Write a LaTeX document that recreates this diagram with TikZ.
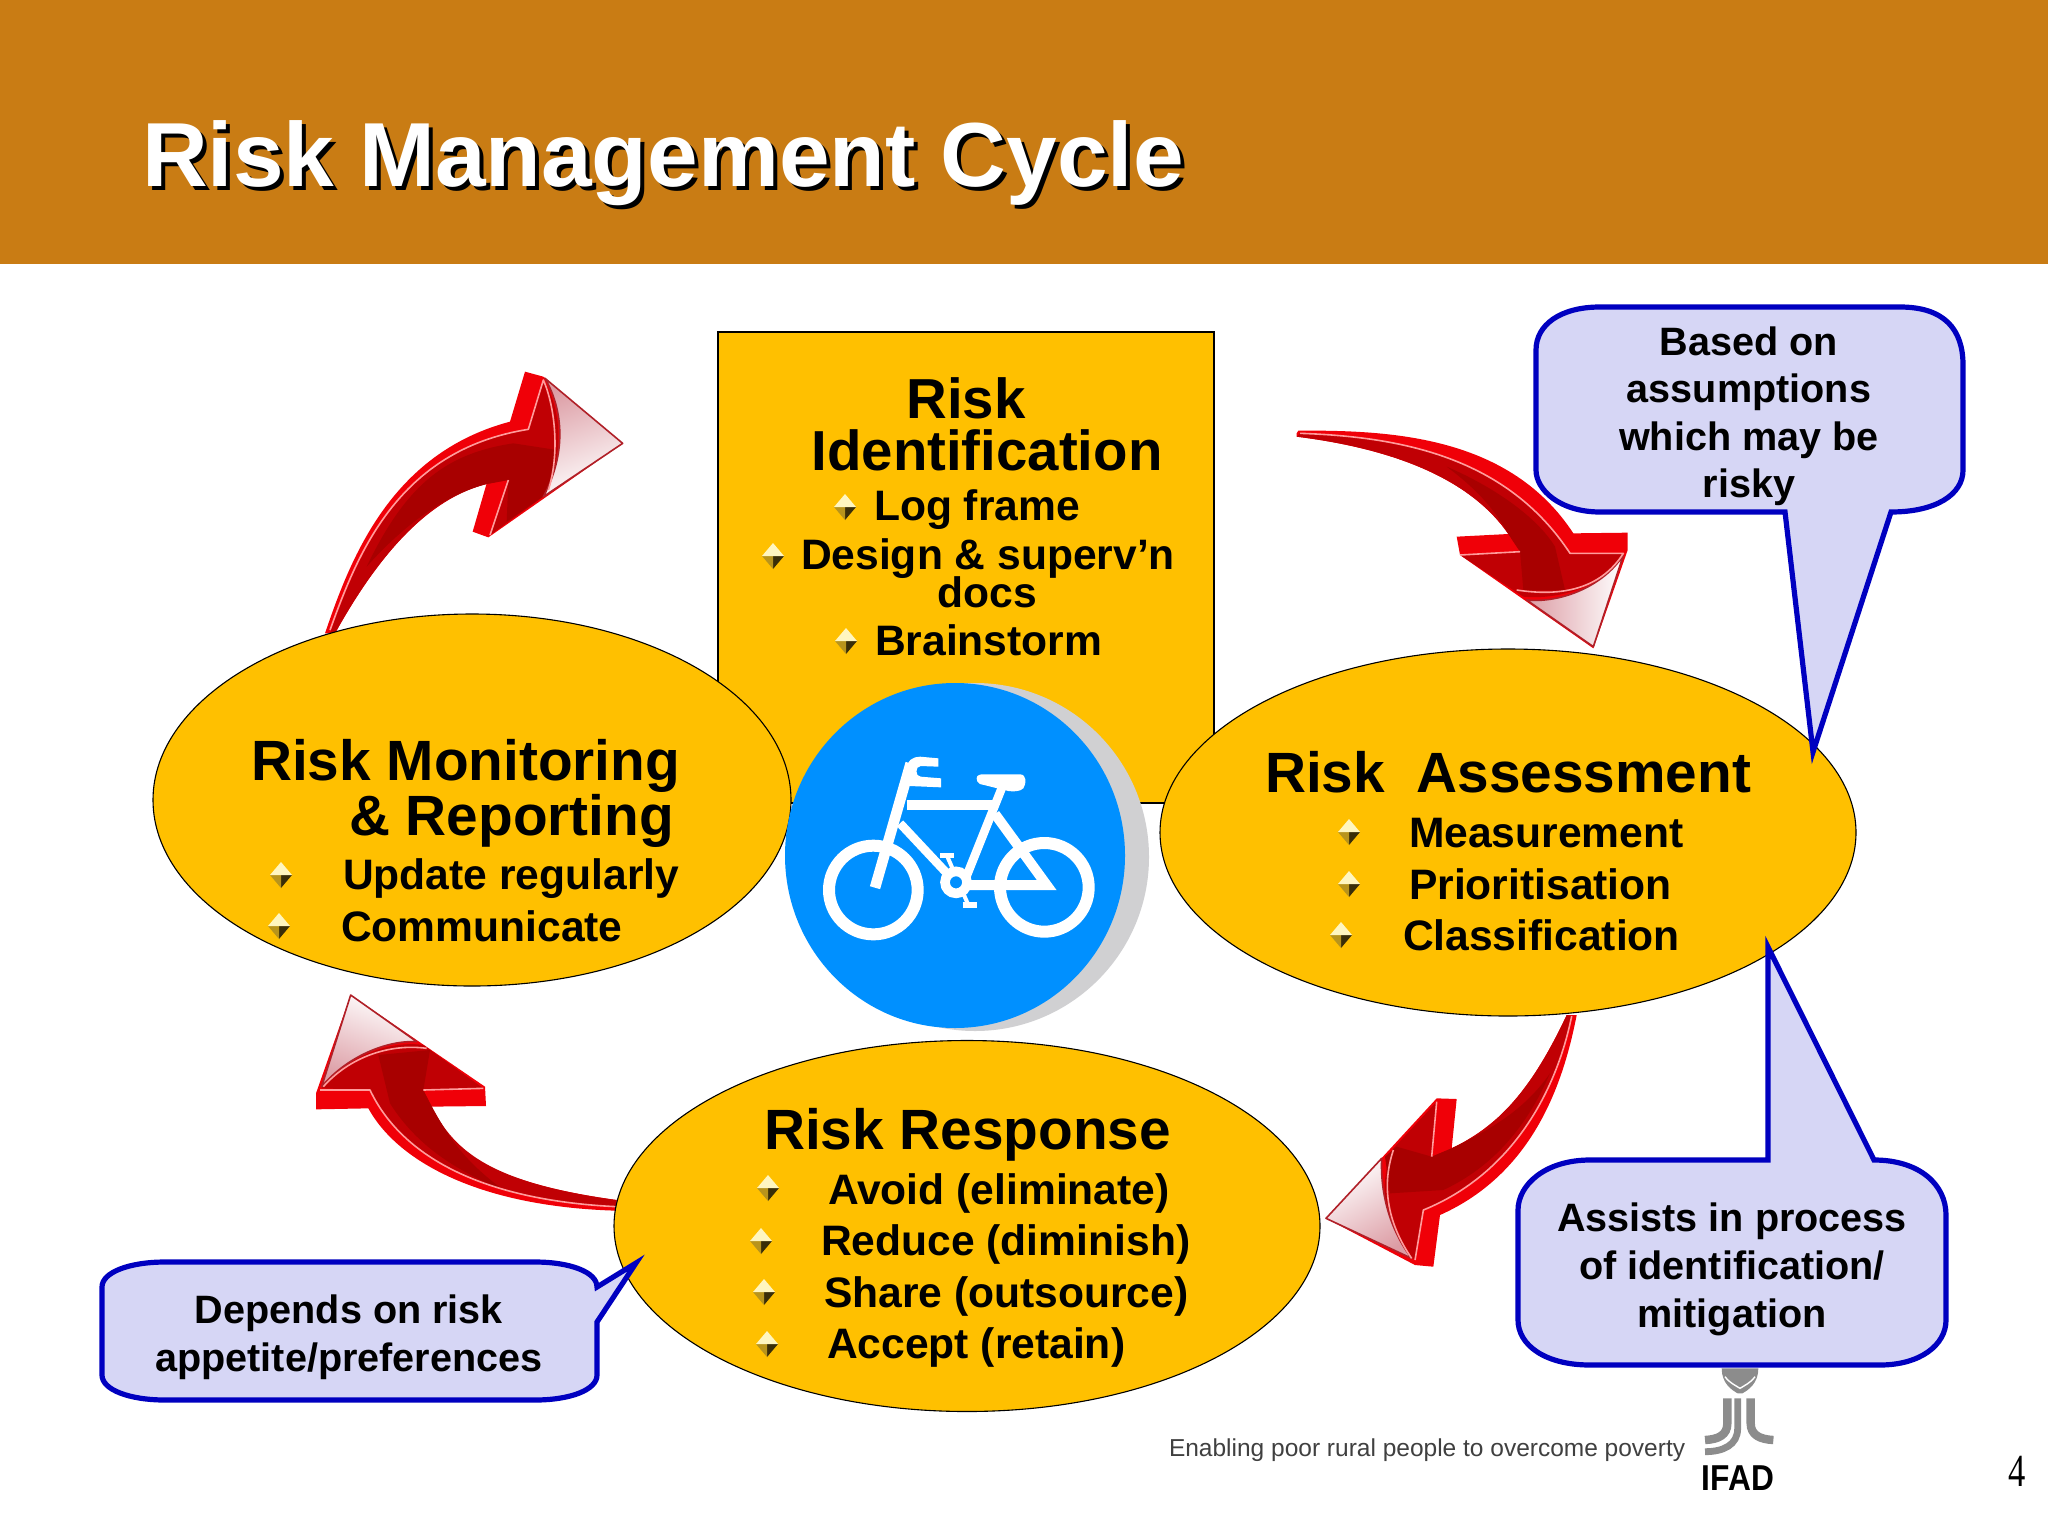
\documentclass[tikz,border=0pt]{standalone}
\usepackage{fontspec}
\setmainfont{Liberation Sans}
\newfontfamily\pagefont{Liberation Serif}
\definecolor{hdr}{HTML}{C97C14}
\definecolor{amber}{HTML}{FFC000}
\definecolor{signblue}{HTML}{0090FF}
\definecolor{signgray}{HTML}{D0D0D2}
\definecolor{calloutfill}{HTML}{D6D6F5}
\definecolor{calloutline}{HTML}{0000C0}
\definecolor{arbright}{HTML}{F00008}
\definecolor{arbody}{HTML}{C00004}
\definecolor{ardark}{HTML}{A80000}
\definecolor{arline}{HTML}{FF9C9C}
\definecolor{artipline}{HTML}{B02028}
\definecolor{arpink}{HTML}{DC9CA4}
\definecolor{logogray}{HTML}{8C8C8C}
\definecolor{bulcream}{HTML}{FFF6C0}
\definecolor{bulolive}{HTML}{B8941C}
\definecolor{buldark}{HTML}{3A2E08}
\tikzset{
  every node/.style={inner sep=0pt,outer sep=0pt},
  shape bright/.style={fill=arbright},
  shape body/.style={fill=arbody},
  shape dark/.style={fill=ardark},
  hi line/.style={draw=arline,line width=0.8pt,line join=round},
  tip west/.style={draw=artipline,line width=0.8pt,line join=round},
  blob/.style={fill=amber,draw=black,line width=0.55pt},
  callout/.style={fill=calloutfill,draw=calloutline,line width=2.6pt,line join=miter},
  head/.style={anchor=base west,font=\fontsize{28.4}{30}\selectfont\bfseries},
  headc/.style={anchor=base,font=\fontsize{28.2}{32}\selectfont\bfseries},
  item/.style={anchor=base west,font=\fontsize{21.3}{24}\selectfont\bfseries},
  itemc/.style={anchor=base,font=\fontsize{21.3}{24}\selectfont\bfseries},
  note/.style={anchor=base,font=\fontsize{19.8}{24}\selectfont\bfseries},
  bikeline/.style={draw=white,line cap=butt,line join=miter},
  bul/.pic={
    \fill[fill=buldark] (0,0)--(11,0)--(0,13)--cycle;
    \fill[fill=bulolive] (0,0)--(-11,0)--(0,13)--cycle;
    \fill[fill=bulcream] (-11,0)--(0,-13)--(11,0)--cycle;
  }
}
\begin{document}
\begin{tikzpicture}[x=0.5pt,y=-0.5pt]
\useasboundingbox (0,0) rectangle (2048,1536);
\fill[white] (0,0) rectangle (2048,1536);
\fill[hdr] (0,0) rectangle (2048,264);
\node[anchor=base west,text=black,font=\fontsize{45.5}{50}\selectfont\bfseries] (titleshadow) at (146,190) {Risk Management Cycle};
\node[anchor=base west,text=white,font=\fontsize{45.5}{50}\selectfont\bfseries] (title) at (142,186) {Risk Management Cycle};

% arrow 1
\begin{scope}[shift={(280,340)},x=0.16667pt,y=-0.16667pt]
\fill[shape bright] (135,880) .. controls (210,660) and (330,340) .. (690,245) -- (735,95) -- (790,110) -- (1028,310) -- (625,592) -- (578,575) -- (620,430) .. controls (470,470) and (320,600) .. (165,880) -- cycle;
\fill[shape body] (150,880) .. controls (230,660) and (350,330) .. (745,268) -- (790,120) .. controls (840,200) and (860,340) .. (790,470) -- (630,585) -- (685,420) -- (620,432) .. controls (470,470) and (320,600) .. (165,880) -- cycle;
\fill[shape dark] (260,680) .. controls (380,430) and (500,340) .. (700,310) -- (830,330) -- (800,462) -- (680,545) -- (685,420) -- (620,432) .. controls (470,470) and (340,590) .. (260,680) -- cycle;
\shade[left color=arpink,right color=white,shading angle=20] (795,115) -- (1028,310) -- (790,470) .. controls (860,340) and (850,210) .. (795,115) -- cycle;
\draw[tip west] (795,115) -- (1028,310) -- (790,470) .. controls (860,340) and (850,210) .. (795,115) -- cycle;
\draw[hi line] (150,870) .. controls (230,650) and (350,330) .. (745,268) -- (790,120) .. controls (825,200) and (840,340) .. (805,450);
\draw[hi line] (685,420) -- (630,585);
\end{scope}
% arrow 2
\begin{scope}[shift={(1260,400)},x=0.16667pt,y=-0.16667pt]
\fill[shape bright] (110,100) -- (115,92) .. controls (400,90) and (750,110) .. (940,400) -- (1103,398) -- (1103,450) -- (1000,745) -- (600,465) -- (590,410) -- (745,402) .. controls (640,250) and (430,150) .. (110,110) -- cycle;
\fill[shape body] (120,100) .. controls (420,110) and (740,170) .. (930,460) -- (1090,460) .. controls (1030,560) and (900,600) .. (790,590) -- (600,465) -- (780,455) -- (745,402) .. controls (640,250) and (430,150) .. (110,110) -- cycle;
\fill[shape dark] (560,200) .. controls (700,260) and (830,350) .. (885,440) -- (915,570) -- (790,570) -- (780,455) -- (745,402) .. controls (700,320) and (640,260) .. (560,200) -- cycle;
\shade[left color=arpink,right color=white] (1090,465) .. controls (1030,560) and (900,610) .. (800,600) -- (1000,740) -- cycle;
\draw[tip west] (1090,465) .. controls (1030,560) and (900,610) .. (800,600) -- (1000,740) -- cycle;
\draw[hi line] (120,100) .. controls (420,110) and (740,170) .. (930,460) -- (1090,460) .. controls (1020,570) and (900,590) .. (770,570);
\draw[hi line] (600,465) -- (780,455);
\end{scope}
% arrow 3
\begin{scope}[shift={(1300,1000)},x=0.16667pt,y=-0.16667pt]
\fill[shape bright] (800,45) -- (830,45) .. controls (790,250) and (700,520) .. (420,645) -- (400,800) -- (345,795) -- (78,655) -- (410,295) -- (470,297) -- (455,445) .. controls (590,380) and (690,280) .. (800,45) -- cycle;
\fill[shape body] (815,48) .. controls (770,270) and (640,520) .. (370,630) -- (345,780) .. controls (250,700) and (230,560) .. (280,445) -- (410,305) -- (395,470) -- (455,445) .. controls (590,380) and (690,280) .. (800,45) -- cycle;
\fill[shape dark] (270,580) -- (430,570) .. controls (580,500) and (680,380) .. (750,220) .. controls (680,320) and (590,380) .. (455,445) -- (395,470) -- (290,440) -- (255,470) -- cycle;
\shade[left color=white,right color=arpink,shading angle=30] (78,655) -- (245,475) .. controls (240,580) and (270,690) .. (335,775) -- cycle;
\draw[tip west] (78,655) -- (245,475) .. controls (240,580) and (270,690) .. (335,775) -- cycle;
\draw[hi line] (815,48) .. controls (770,270) and (640,520) .. (370,630) -- (345,780);
\draw[hi line] (410,305) -- (395,470);
\draw[hi line] (280,450) .. controls (240,570) and (270,680) .. (335,775);
\end{scope}
% arrow 4
\begin{scope}[shift={(290,980)},x=0.16667pt,y=-0.16667pt]
\fill[shape bright] (182,45) -- (585,320) -- (588,378) -- (410,380) .. controls (470,480) and (540,600) .. (980,660) -- (980,692) .. controls (560,680) and (320,540) .. (235,385) -- (78,388) -- (78,340) -- cycle;
\fill[shape body] (95,325) -- (240,330) .. controls (330,520) and (560,660) .. (980,680) -- (980,660) .. controls (540,600) and (470,480) .. (400,330) -- (580,325) -- (400,195) .. controls (300,180) and (170,230) .. (95,325) -- cycle;
\fill[shape dark] (265,225) -- (300,370) .. controls (370,480) and (470,560) .. (640,630) .. controls (520,540) and (470,470) .. (400,330) -- (420,210) -- cycle;
\shade[left color=white,right color=arpink,shading angle=-20] (182,45) -- (95,320) .. controls (170,230) and (290,180) .. (380,185) -- cycle;
\draw[tip west] (182,45) -- (95,320) .. controls (170,230) and (290,180) .. (380,185) -- cycle;
\draw[hi line] (90,330) -- (240,330) .. controls (330,520) and (560,660) .. (980,680);
\draw[hi line] (400,330) -- (580,325);
\draw[hi line] (100,320) .. controls (180,230) and (300,190) .. (410,205);
\end{scope}

% identification box and ellipses
\fill[blob] (718,332) rectangle (1214,803);
\fill[blob] (472,800) ellipse [x radius=319,y radius=186];
\fill[blob] (1508,832.5) ellipse [x radius=348,y radius=183.5];
\fill[blob] (967,1226) ellipse [x radius=353,y radius=185.5];

% bicycle sign
\fill[signgray] (975,857) ellipse [x radius=174,y radius=174];
\fill[signblue] (955,855.5) ellipse [x radius=170,y radius=172.5];
\begin{scope}[shift={(760,660)},x=0.16667pt,y=-0.16667pt]
\draw[bikeline,line width=6pt] (340,690) circle [radius=133];
\draw[bikeline,line width=6pt] (853,682) circle [radius=133];
\draw[bikeline,line width=5.3pt] (345,683) -- (452,310);
\draw[bikeline,line width=5pt] (440,435) -- (710,435);
\draw[bikeline,line width=4.3pt] (725,385) -- (615,660);
\draw[bikeline,line width=5pt,line join=miter] (705,462) -- (860,675) -- (620,675);
\draw[bikeline,line width=4.3pt] (420,490) -- (570,650);
\draw[bikeline,line width=2pt] (560,585) -- (625,735);
\draw[bikeline,line width=2.6pt] (540,587) -- (583,587);
\draw[bikeline,line width=2.6pt] (608,735) -- (650,735);
\draw[bikeline,line width=4.8pt,fill=signblue] (588,667) circle [radius=33];
\fill[white] (440,330) .. controls (440,300) and (460,290) .. (480,290) -- (535,295) -- (535,320) -- (482,318) .. controls (465,318) and (465,350) .. (482,350) -- (543,355) -- (543,382) -- (450,378) -- cycle;
\fill[white] (650,355) .. controls (650,345) and (660,343) .. (670,343) -- (780,343) .. controls (800,343) and (800,370) .. (790,385) .. controls (780,395) and (760,395) .. (745,393) -- (660,372) .. controls (652,368) and (650,362) .. (650,355) -- cycle;
\end{scope}

% callouts
\fill[callout] (1600,307) -- (1900,307) .. controls (1945,307) and (1963,330) .. (1963,365) -- (1963,470) .. controls (1963,495) and (1935,512) .. (1891,512) -- (1813,752) -- (1785,512) -- (1600,512) .. controls (1560,512) and (1536,490) .. (1536,470) -- (1536,350) .. controls (1536,325) and (1560,307) .. (1600,307) -- cycle;

% IFAD logo
\begin{scope}[shift={(1690,1360)},x=0.16667pt,y=-0.16667pt]
\fill[logogray] (95,25) .. controls (95,70) and (125,90) .. (143,100) -- (157,100) .. controls (175,90) and (205,70) .. (205,25) -- cycle;
\draw[white,line width=0.7pt] (105,50) .. controls (120,70) and (135,75) .. (150,85) .. controls (165,75) and (180,70) .. (195,50);
\draw[logogray,line width=4.2pt] (112,115) -- (112,190) .. controls (112,225) and (85,238) .. (45,240);
\draw[logogray,line width=3.4pt] (143,115) -- (143,205) .. controls (143,255) and (100,275) .. (45,275);
\draw[logogray,line width=4.2pt] (182,115) -- (182,190) .. controls (182,225) and (210,238) .. (250,240);
\end{scope}

\fill[callout] (1590,1160) -- (1768,1160) -- (1768,947) -- (1874,1160) .. controls (1920,1160) and (1946,1185) .. (1946,1215) -- (1946,1320) .. controls (1946,1345) and (1920,1365) .. (1880,1365) -- (1590,1365) .. controls (1545,1365) and (1518,1345) .. (1518,1320) -- (1518,1210) .. controls (1518,1185) and (1545,1160) .. (1590,1160) -- cycle;
\fill[callout] (165,1262) -- (535,1262) .. controls (570,1262) and (597,1272) .. (597,1287) -- (636,1263) -- (597,1322) -- (597,1375) .. controls (597,1390) and (570,1400) .. (535,1400) -- (165,1400) .. controls (130,1400) and (102,1390) .. (102,1375) -- (102,1287) .. controls (102,1272) and (130,1262) .. (165,1262) -- cycle;

% bullets
\foreach \px/\py in {845/507,773/556,846/641,281/875,279/926,1349/832,1349/884,1341/935,768/1188,761/1241,764/1292,767/1344}
  \pic at (\px,\py) {bul};

% identification
\node[headc] (idA) at (966,418) {Risk};
\node[headc] (idB) at (987,470) {Identification};
\node[item] (idC) at (874,520) {Log frame};
\node[item] (idD) at (801,569) {Design \& superv’n};
\node[itemc] (idE) at (987,607) {docs};
\node[item] (idF) at (875,655) {Brainstorm};
% monitoring
\node[head] (moA) at (251,780) {Risk Monitoring};
\node[head] (moB) at (349,835) {\& Reporting};
\node[item] (moC) at (343,889) {Update regularly};
\node[item] (moD) at (341,941) {Communicate};
% assessment
\node[head] (asA) at (1265,792) {Risk\ \ Assessment};
\node[item] (asB) at (1409,847) {Measurement};
\node[item] (asC) at (1409,899) {Prioritisation};
\node[item] (asD) at (1403,950) {Classification};
% response
\node[head] (reA) at (764,1149) {Risk Response};
\node[item] (reB) at (828,1204) {Avoid (eliminate)};
\node[item] (reC) at (821,1255) {Reduce (diminish)};
\node[item] (reD) at (824,1307) {Share (outsource)};
\node[item] (reE) at (827,1358) {Accept (retain)};
% callout texts
\node[note] (cA) at (1749,355) {Based on};
\node[note] (cB) at (1749,402) {assumptions};
\node[note] (cC) at (1749,450) {which may be};
\node[note] (cD) at (1749,497) {risky};
\node[note] (dA) at (1732,1231) {Assists in process};
\node[note] (dB) at (1732,1279) {of identification/};
\node[note] (dC) at (1732,1327) {mitigation};
\node[note] (eA) at (349,1323) {Depends on risk};
\node[note] (eB) at (349,1371) {appetite/preferences};
% footer
\node[anchor=base west,text=black!75,font=\fontsize{12.25}{14}\selectfont] (tag) at (1169,1456) {Enabling poor rural people to overcome poverty};
\node[anchor=base,xscale=.88,font=\fontsize{18}{20}\selectfont\bfseries] (ifad) at (1738,1490) {IFAD};
\node[anchor=base,xscale=.75,font=\fontsize{23}{25}\selectfont\pagefont] (pageno) at (2017,1486) {4};
\end{tikzpicture}
\end{document}
